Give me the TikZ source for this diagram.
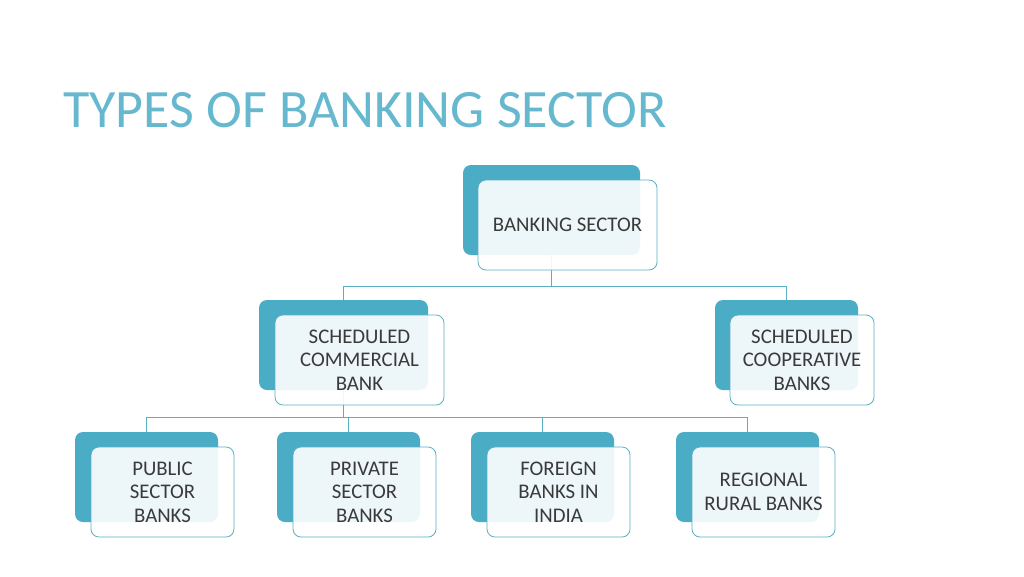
\documentclass[tikz,border=0pt]{standalone}
\usepackage{fontspec}
\setmainfont{Carlito}
\usepackage{xcolor}
\definecolor{teal1}{HTML}{4BACC6}
\definecolor{tealline}{HTML}{5AAFC4}
\definecolor{txt}{HTML}{3A3A3A}
\usetikzlibrary{positioning}

\begin{document}
\begin{tikzpicture}[x=1pt, y=-1pt,
  back/.style={fill=teal1, rounded corners=8pt, minimum height=90pt, inner sep=0pt},
  front/.style={draw=tealline, line width=0.8pt, fill=white, fill opacity=0.9, text opacity=1,
    rounded corners=8pt, minimum height=90pt, inner sep=0pt, align=center, text=txt,
    font=\fontsize{20.8}{23.5}\selectfont},
  link/.style={draw=tealline, line width=0.8pt},
]
\useasboundingbox (0,0) rectangle (1024,576);

% title
\node[anchor=base west, inner sep=0pt, text=teal1!85!white, font=\fontsize{54}{60}\selectfont]
  (title) at (63,127) {TYPES OF BANKING SECTOR};

% back boxes
\node[back, minimum width=177pt] (bank-b) at (551.5,210) {};
\node[back, minimum width=169pt] (scb-b) at (343.5,345) {};
\node[back, minimum width=143pt] (scc-b) at (786.5,345) {};
\node[back, minimum width=143pt] (pub-b) at (146.5,477) {};
\node[back, minimum width=143pt] (priv-b) at (348.5,477) {};
\node[back, minimum width=143pt] (for-b) at (542.5,477) {};
\node[back, minimum width=143pt] (rrb-b) at (747.5,477) {};

% connectors
\coordinate (j1) at (551.5,286);
\coordinate (j2) at (343.5,417);
\draw[link] (bank-b.south) -- (j1) -| (scb-b.north);
\draw[link] (j1) -| (scc-b.north);
\draw[link] (scb-b.south) -- (j2) -| (pub-b.north);
\draw[link] (j2) -| (priv-b.north);
\draw[link] (j2) -| (for-b.north);
\draw[link] (j2) -| (rrb-b.north);

% front boxes
\node[front, minimum width=179pt] (bank) at (567.5,225) {BANKING SECTOR};
\node[front, minimum width=169pt] (scb) at (359.5,360) {SCHEDULED\\COMMERCIAL\\BANK};
\node[front, minimum width=144pt] (scc) at (802,360) {SCHEDULED\\COOPERATIVE\\BANKS};
\node[front, minimum width=143pt] (pub) at (162.5,492) {PUBLIC\\SECTOR\\BANKS};
\node[front, minimum width=143pt] (priv) at (364.5,492) {PRIVATE\\SECTOR\\BANKS};
\node[front, minimum width=143pt] (for) at (558.5,492) {FOREIGN\\BANKS IN\\INDIA};
\node[front, minimum width=143pt] (rrb) at (763.5,492) {REGIONAL\\RURAL BANKS};
\end{tikzpicture}
\end{document}
